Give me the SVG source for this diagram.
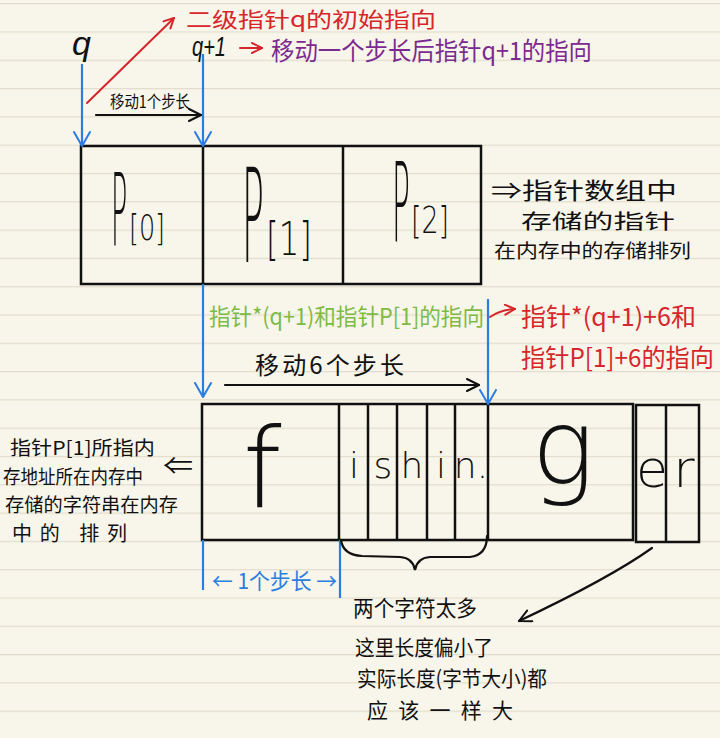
<svg xmlns="http://www.w3.org/2000/svg" width="720" height="738" viewBox="0 0 720 738">
<defs>
  <pattern id="ruled" patternUnits="userSpaceOnUse" x="0" y="3.1" width="720" height="28.3">
    <rect x="0" y="0" width="720" height="28.3" fill="#f8f5ea"/>
    <line x1="0" y1="0.6" x2="720" y2="0.6" stroke="#e2ddcd" stroke-width="1.2"/>
  </pattern>
  <marker id="hBlue" markerUnits="userSpaceOnUse" markerWidth="24" markerHeight="24" refX="15" refY="9" orient="auto" viewBox="0 0 24 24">
    <path d="M1,1 L15,9 L1,17" fill="none" stroke="#2b7de0" stroke-width="2" stroke-linecap="round" stroke-linejoin="round"/>
  </marker>
  <marker id="hBlack" markerUnits="userSpaceOnUse" markerWidth="24" markerHeight="24" refX="13" refY="7" orient="auto" viewBox="0 0 24 24">
    <path d="M1,1 L13,7 L1,13" fill="none" stroke="#111" stroke-width="2" stroke-linecap="round" stroke-linejoin="round"/>
  </marker>
  <marker id="hRed" markerUnits="userSpaceOnUse" markerWidth="24" markerHeight="24" refX="11" refY="6" orient="auto" viewBox="0 0 24 24">
    <path d="M1,1 L11,6 L1,11" fill="none" stroke="#d7262b" stroke-width="2" stroke-linecap="round" stroke-linejoin="round"/>
  </marker>
  <style>
    .box { fill: none; stroke: #111; stroke-width: 2.5; }
    .div { stroke: #111; stroke-width: 2.5; }
    .blue { stroke: #2b7de0; stroke-width: 2.2; fill: none; }
    .blk { stroke: #111; stroke-width: 2.2; fill: none; stroke-linecap: round; }
    .red { stroke: #d7262b; stroke-width: 2; fill: none; stroke-linecap: round; }
    .cjk { font-family: "Noto Sans CJK SC", "Liberation Sans", sans-serif; }
    .lat { font-family: "Liberation Sans", "DejaVu Sans", sans-serif; fill: #111; }
    .thin { font-family: "DejaVu Sans", "Liberation Sans", sans-serif; font-weight: 200; fill: #111; }
    .tBlack { fill: #111; }
    .tRed { fill: #d7262b; }
    .tPurple { fill: #7b2a8f; }
    .tGreen { fill: #7dbb45; }
    .tBlue { fill: #2b7de0; }
  </style>
</defs>

<rect id="paper" x="0" y="0" width="720" height="738" fill="url(#ruled)"/>

<g id="label-q">
  <text class="lat" x="72" y="55" font-size="34" font-style="italic">q</text>
</g>
<g id="label-q1">
  <text class="lat" x="192" y="56" font-size="27" font-style="italic" textLength="34" lengthAdjust="spacingAndGlyphs">q+1</text>
</g>
<g id="label-initial">
  <text class="cjk tRed" x="186" y="27" font-size="21" textLength="250" lengthAdjust="spacingAndGlyphs">二级指针q的初始指向</text>
</g>
<g id="label-after-move">
  <text class="cjk tPurple" x="271" y="60" font-size="25" textLength="321" lengthAdjust="spacingAndGlyphs">移动一个步长后指针q+1的指向</text>
</g>
<g id="label-move1">
  <text class="cjk tBlack" x="110" y="108" font-size="17" textLength="80" lengthAdjust="spacingAndGlyphs">移动1个步长</text>
</g>

<g id="pointer-array">
  <rect class="box" x="81" y="146" width="400" height="138"/>
  <line class="div" x1="203" y1="146" x2="203" y2="284"/>
  <line class="div" x1="343" y1="146" x2="343" y2="284"/>
  <g id="cell-p0">
    <text class="thin" transform="translate(111,245) scale(0.27,1)" font-size="100">P</text>
    <text class="thin" x="129" y="240" font-size="36" textLength="36" lengthAdjust="spacingAndGlyphs">[0]</text>
  </g>
  <g id="cell-p1">
    <text class="thin" transform="translate(242,262) scale(0.28,1)" font-size="130">P</text>
    <text class="thin" x="266" y="255" font-size="46" textLength="46" lengthAdjust="spacingAndGlyphs">[1]</text>
  </g>
  <g id="cell-p2">
    <text class="thin" transform="translate(392,242) scale(0.27,1)" font-size="110">P</text>
    <text class="thin" x="411" y="233" font-size="38" textLength="38" lengthAdjust="spacingAndGlyphs">[2]</text>
  </g>
</g>

<g id="label-array-note">
  <text class="cjk tBlack" x="491" y="199" font-size="23" textLength="186" lengthAdjust="spacingAndGlyphs">⇒指针数组中</text>
  <text class="cjk tBlack" x="521" y="229" font-size="20" textLength="154" lengthAdjust="spacingAndGlyphs">存储的指针</text>
  <text class="cjk tBlack" x="494" y="258" font-size="19" textLength="197" lengthAdjust="spacingAndGlyphs">在内存中的存储排列</text>
</g>

<g id="label-green">
  <text class="cjk tGreen" x="209" y="325" font-size="23" textLength="275" lengthAdjust="spacingAndGlyphs">指针*(q+1)和指针P[1]的指向</text>
</g>
<g id="label-plus6">
  <text class="cjk tRed" x="521" y="326" font-size="25" textLength="175" lengthAdjust="spacingAndGlyphs">指针*(q+1)+6和</text>
  <text class="cjk tRed" x="521" y="367" font-size="25" textLength="193" lengthAdjust="spacingAndGlyphs">指针P[1]+6的指向</text>
</g>
<g id="label-move6">
  <text class="cjk tBlack" x="255" y="374" font-size="24" textLength="149" lengthAdjust="spacing">移动6个步长</text>
</g>

<g id="label-left-note">
  <text class="cjk tBlack" x="10" y="455" font-size="19" textLength="145" lengthAdjust="spacingAndGlyphs">指针P[1]所指内</text>
  <text class="cjk tBlack" x="3" y="484" font-size="19" textLength="140" lengthAdjust="spacingAndGlyphs">存地址所在内存中</text>
  <text class="cjk tBlack" x="5" y="512" font-size="19" textLength="173" lengthAdjust="spacingAndGlyphs">存储的字符串在内存</text>
  <text class="cjk tBlack" x="12" y="541" font-size="20" textLength="115" lengthAdjust="spacing">中的 排列</text>
  <text class="cjk tBlack" x="163" y="474" font-size="24" textLength="30" lengthAdjust="spacingAndGlyphs">⇐</text>
</g>

<g id="string-memory">
  <rect class="box" x="202" y="404" width="431" height="136"/>
  <line class="div" x1="339" y1="404" x2="339" y2="540"/>
  <line class="div" x1="368" y1="404" x2="368" y2="540"/>
  <line class="div" x1="397" y1="404" x2="397" y2="540"/>
  <line class="div" x1="427" y1="404" x2="427" y2="540"/>
  <line class="div" x1="455" y1="404" x2="455" y2="540"/>
  <line class="div" x1="488" y1="404" x2="488" y2="540"/>
  <text class="thin" x="262" y="507" font-size="110" text-anchor="middle">f</text>
  <text class="thin" x="354" y="478" font-size="36" text-anchor="middle">i</text>
  <text class="thin" x="383" y="478" font-size="36" text-anchor="middle">s</text>
  <text class="thin" x="412" y="478" font-size="36" text-anchor="middle">h</text>
  <text class="thin" x="441" y="478" font-size="36" text-anchor="middle">i</text>
  <text class="thin" x="471" y="478" font-size="36" text-anchor="middle">n.</text>
  <text class="thin" x="563" y="484" font-size="105" text-anchor="middle">g</text>
</g>
<g id="string-er">
  <rect class="box" x="636" y="405" width="63" height="137"/>
  <line class="div" x1="666" y1="405" x2="666" y2="542"/>
  <text class="thin" x="652" y="487" font-size="52" text-anchor="middle">e</text>
  <text class="thin" x="684" y="487" font-size="52" text-anchor="middle">r</text>
</g>

<g id="label-one-step">
  <text class="cjk tBlue" x="212" y="589" font-size="22" textLength="125" lengthAdjust="spacingAndGlyphs">← 1个步长 →</text>
</g>
<g id="label-bottom-note">
  <text class="cjk tBlack" x="353" y="616" font-size="22" textLength="124" lengthAdjust="spacingAndGlyphs">两个字符太多</text>
  <text class="cjk tBlack" x="355" y="655" font-size="21" textLength="138" lengthAdjust="spacingAndGlyphs">这里长度偏小了</text>
  <text class="cjk tBlack" x="357" y="686" font-size="21" textLength="190" lengthAdjust="spacingAndGlyphs">实际长度(字节大小)都</text>
  <text class="cjk tBlack" x="367" y="718" font-size="21" textLength="146" lengthAdjust="spacing">应该一样大</text>
</g>

<g id="connectors">
  <line class="blue" x1="82" y1="64" x2="82" y2="146" marker-end="url(#hBlue)"/>
  <line class="blue" x1="203" y1="54" x2="203" y2="146" marker-end="url(#hBlue)"/>
  <line class="blue" x1="203" y1="284" x2="203" y2="397" marker-end="url(#hBlue)"/>
  <line class="blue" x1="488" y1="299" x2="488" y2="404" marker-end="url(#hBlue)"/>
  <line class="blue" x1="203" y1="540" x2="203" y2="590"/>
  <line class="blue" x1="340" y1="540" x2="340" y2="598"/>
  <line class="red" x1="87" y1="103" x2="174" y2="18" marker-end="url(#hRed)"/>
  <line class="red" x1="240" y1="48" x2="262" y2="48" marker-end="url(#hRed)"/>
  <path class="red" d="M490,317 Q500,310 515,309" marker-end="url(#hRed)"/>
  <line class="blk" x1="96" y1="115" x2="201" y2="115" marker-end="url(#hBlack)"/>
  <line class="blk" x1="225" y1="385" x2="479" y2="385" marker-end="url(#hBlack)"/>
  <path class="blk" d="M341,540 Q343,555 362,556 L400,557 Q413,558 415,570 Q417,558 430,557 L470,557 Q487,555 487,536"/>
  <path class="blk" d="M652,548 Q610,578 519,621" stroke-width="1.6" marker-end="url(#hBlack)"/>
</g>
</svg>
